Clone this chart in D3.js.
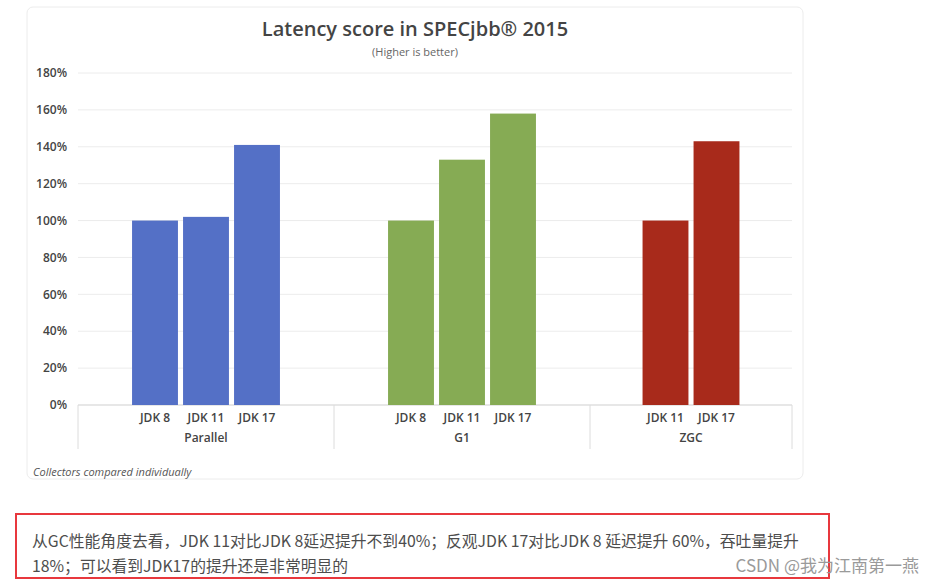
<!DOCTYPE html>
<html><head><meta charset="utf-8">
<script src="https://cdn.jsdelivr.net/npm/d3@7"></script>
<style>
body{margin:0;background:#fff;font-family:"Open Sans","Noto Sans",sans-serif;}
</style></head>
<body><svg id="chart" width="935" height="585"></svg>
<script>
const groups = ['Parallel', 'G1', 'ZGC'];
const versions = [['JDK 8', 'JDK 11', 'JDK 17'], ['JDK 8', 'JDK 11', 'JDK 17'], ['JDK 11', 'JDK 17']];
const scores = [[100, 102, 141], [100, 133, 158], [100, 143]];
const colors = ['#5470c6', '#86ab54', '#a82a1b'];
const yTicks = [0, 20, 40, 60, 80, 100, 120, 140, 160, 180];

const svg = d3.select('#chart');

// card
svg.append('rect').attr('x', 27).attr('y', 7).attr('width', 776).attr('height', 472)
    .attr('rx', 6).attr('fill', '#fff').attr('stroke', '#ececec');

svg.append('text').attr('x', 415).attr('y', 36).attr('text-anchor', 'middle')
    .attr('font-size', 20).attr('font-weight', 600).attr('fill', '#444')
    .text('Latency score in SPECjbb® 2015');
svg.append('text').attr('x', 415).attr('y', 56).attr('text-anchor', 'middle')
    .attr('font-size', 11).attr('fill', '#666').text('(Higher is better)');

// group boundaries are uneven in the original (last one is narrower)
const edges = [78, 334, 590, 792];
const y = d3.scaleLinear().domain([0, 180]).range([405, 73]);

// grid
svg.append('g').selectAll('line').data(yTicks).enter().append('line')
    .attr('x1', 78).attr('x2', 792)
    .attr('y1', d => y(d)).attr('y2', d => y(d))
    .attr('stroke', d => d === 0 ? '#cfcfcf' : '#ececec');

svg.append('g').selectAll('text').data(yTicks).enter().append('text')
    .attr('x', 67).attr('y', d => y(d)).attr('dy', '0.35em').attr('text-anchor', 'end')
    .attr('font-size', 12).attr('font-weight', 600).attr('fill', '#444')
    .text(d => d + '%');

// group separators
svg.append('g').selectAll('line').data(edges).enter().append('line')
    .attr('x1', d => d).attr('x2', d => d).attr('y1', 405).attr('y2', 449)
    .attr('stroke', '#dcdcdc');

const step = 51;
groups.forEach((g, i) => {
    const c = (edges[i] + edges[i + 1]) / 2;
    const n = versions[i].length;
    const inner = d3.scaleBand().domain(versions[i])
        .range([c - n * step / 2, c + n * step / 2]).paddingInner(0.1).paddingOuter(0.05);
    const grp = svg.append('g');
    grp.selectAll('rect').data(scores[i]).enter().append('rect')
        .attr('x', (d, j) => inner(versions[i][j]))
        .attr('width', inner.bandwidth())
        .attr('y', d => y(d)).attr('height', d => y(0) - y(d))
        .attr('fill', colors[i]);
    grp.selectAll('text').data(versions[i]).enter().append('text')
        .attr('x', v => inner(v) + inner.bandwidth() / 2).attr('y', 422)
        .attr('text-anchor', 'middle').attr('font-size', 12).attr('font-weight', 600)
        .attr('fill', '#444').text(v => v);
    svg.append('text').attr('x', c).attr('y', 442).attr('text-anchor', 'middle')
        .attr('font-size', 12).attr('font-weight', 600).attr('fill', '#444').text(g);
});

svg.append('text').attr('x', 33).attr('y', 476).attr('font-size', 11)
    .attr('font-style', 'italic').attr('fill', '#555').text('Collectors compared individually');

// note box
svg.append('rect').attr('x', 16).attr('y', 514).attr('width', 813).attr('height', 64)
    .attr('fill', 'none').attr('stroke', '#e8383d').attr('stroke-width', 2);
const noteFont = '"Noto Sans CJK SC", sans-serif';
svg.append('text').attr('x', 32).attr('y', 547).attr('font-size', 15.8).attr('fill', '#4d4d4d')
    .attr('font-family', noteFont)
    .text('从GC性能角度去看，JDK 11对比JDK 8延迟提升不到40%；反观JDK 17对比JDK 8 延迟提升 60%，吞吐量提升');
svg.append('text').attr('x', 32).attr('y', 572).attr('font-size', 15.8).attr('fill', '#4d4d4d')
    .attr('font-family', noteFont)
    .text('18%；可以看到JDK17的提升还是非常明显的');
svg.append('text').attr('x', 919).attr('y', 572).attr('text-anchor', 'end').attr('font-size', 17)
    .attr('fill', '#9a9a9a').attr('font-family', noteFont).text('CSDN @我为江南第一燕');
</script></body></html>
